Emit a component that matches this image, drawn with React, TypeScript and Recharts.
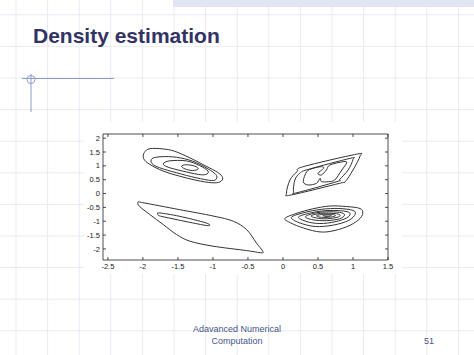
import React from "react";
import { ScatterChart, Scatter, XAxis, YAxis } from "recharts";

type Pt = [number, number];

const xTicks = [-2.5, -2, -1.5, -1, -0.5, 0, 0.5, 1, 1.5];
const yTicks = [-2, -1.5, -1, -0.5, 0, 0.5, 1, 1.5, 2];
const xDomain: [number, number] = [-2.57, 1.5];
const yDomain: [number, number] = [-2.4, 2.15];

// upper-left blob, outer -> inner
const upperLeft1: Pt[] = [
  [-1.9, 1.62], [-1.71, 1.61], [-1.55, 1.53], [-1.33, 1.29], [-1.1, 0.99],
  [-0.93, 0.76], [-0.86, 0.57], [-0.9, 0.42], [-1.02, 0.39], [-1.24, 0.48],
  [-1.48, 0.63], [-1.71, 0.81], [-1.9, 1.05], [-1.99, 1.26], [-1.98, 1.48],
];
const upperLeft2: Pt[] = [
  [-1.87, 1.26], [-1.74, 1.33], [-1.52, 1.31], [-1.29, 1.17], [-1.07, 0.89],
  [-0.96, 0.69], [-0.95, 0.53], [-1.02, 0.47], [-1.24, 0.57], [-1.52, 0.75],
  [-1.76, 0.93], [-1.87, 1.08],
];
const upperLeft3: Pt[] = [
  [-1.71, 1.07], [-1.62, 1.18], [-1.38, 1.18], [-1.19, 1.01], [-1.07, 0.81],
  [-1.1, 0.69], [-1.21, 0.69], [-1.43, 0.81], [-1.64, 0.95],
];
const upperLeft4: Pt[] = [
  [-1.45, 0.99], [-1.38, 1.04], [-1.26, 0.99], [-1.21, 0.89], [-1.29, 0.83],
  [-1.4, 0.89],
];

// lower-left ridge
const lowerLeft1: Pt[] = [
  [-2.07, -0.31], [-2.0, -0.33], [-1.48, -0.58], [-1.0, -0.81], [-0.71, -1.0],
  [-0.52, -1.3], [-0.38, -1.78], [-0.29, -2.08], [-0.31, -2.14], [-0.52, -2.06],
  [-1.0, -1.9], [-1.33, -1.72], [-1.52, -1.48], [-1.71, -1.12], [-1.9, -0.76],
  [-2.05, -0.46],
];
const lowerLeft2: Pt[] = [
  [-1.79, -0.73], [-1.76, -0.7], [-1.48, -0.82], [-1.1, -1.06], [-1.07, -1.16],
  [-1.33, -1.04], [-1.67, -0.86], [-1.77, -0.8],
];

// upper-right diamond
const upperRight1: Pt[] = [
  [0.05, 0.01], [0.1, 0.49], [0.2, 0.79], [0.29, 0.97], [1.05, 1.42],
  [1.1, 1.35], [1.0, 0.85], [0.89, 0.43], [0.81, 0.37], [0.12, -0.05],
];
const upperRight2: Pt[] = [
  [0.15, 0.06], [0.17, 0.49], [0.24, 0.73], [0.36, 0.87], [0.96, 1.27],
  [1.0, 1.23], [0.93, 0.85], [0.81, 0.51], [0.77, 0.43], [0.2, 0.03],
];
const upperRight3: Pt[] = [
  [0.29, 0.43], [0.34, 0.79], [0.43, 0.91], [0.55, 0.97], [0.58, 0.91],
  [0.5, 0.73], [0.55, 0.67], [0.62, 0.85], [0.67, 1.03], [0.86, 1.15],
  [0.91, 1.11], [0.84, 0.85], [0.74, 0.49], [0.65, 0.43], [0.55, 0.43],
  [0.53, 0.55], [0.48, 0.37], [0.36, 0.31],
];

// lower-right peak
const lowerRight1: Pt[] = [
  [0.03, -0.89], [0.2, -0.71], [0.43, -0.55], [0.67, -0.45], [0.91, -0.47],
  [1.1, -0.54], [1.14, -0.71], [1.08, -0.95], [0.91, -1.2], [0.67, -1.37],
  [0.48, -1.37], [0.24, -1.2], [0.08, -1.02],
];
const lowerRight2: Pt[] = [
  [0.12, -0.86], [0.3, -0.69], [0.55, -0.57], [0.8, -0.54], [1.0, -0.61],
  [1.03, -0.75], [0.94, -0.97], [0.72, -1.14], [0.46, -1.19], [0.23, -1.05],
];
const lowerRight3: Pt[] = [
  [0.22, -0.86], [0.38, -0.71], [0.6, -0.62], [0.82, -0.62], [0.95, -0.69],
  [0.93, -0.85], [0.79, -0.99], [0.58, -1.08], [0.38, -1.04],
];
const lowerRight4: Pt[] = [
  [0.32, -0.84], [0.45, -0.71], [0.62, -0.66], [0.81, -0.68], [0.88, -0.77],
  [0.81, -0.91], [0.62, -0.98], [0.43, -0.95],
];
const lowerRight5: Pt[] = [
  [0.4, -0.82], [0.5, -0.73], [0.65, -0.71], [0.79, -0.74], [0.81, -0.82],
  [0.71, -0.89], [0.55, -0.91],
];
const lowerRight6: Pt[] = [
  [0.48, -0.8], [0.58, -0.75], [0.7, -0.75], [0.75, -0.8], [0.68, -0.85],
  [0.55, -0.86],
];
const lowerRight7: Pt[] = [
  [0.57, -0.79], [0.63, -0.77], [0.69, -0.78], [0.66, -0.82], [0.6, -0.82],
];

const contours = [
  upperLeft1, upperLeft2, upperLeft3, upperLeft4,
  lowerLeft1, lowerLeft2,
  upperRight1, upperRight2, upperRight3,
  lowerRight1, lowerRight2, lowerRight3, lowerRight4, lowerRight5, lowerRight6, lowerRight7,
];

const toPoints = (c: Pt[]) => c.map(([x, y]) => ({ x, y }));

// closed Catmull-Rom curve, passes through every point
function closedSmooth(context: any) {
  let pts: Pt[] = [];
  return {
    areaStart() {},
    areaEnd() {},
    lineStart() {
      pts = [];
    },
    point(x: number, y: number) {
      pts.push([+x, +y]);
    },
    lineEnd() {
      const n = pts.length;
      if (!n) return;
      context.moveTo(pts[0][0], pts[0][1]);
      for (let i = 0; i < n; i++) {
        const p0 = pts[(i - 1 + n) % n];
        const p1 = pts[i];
        const p2 = pts[(i + 1) % n];
        const p3 = pts[(i + 2) % n];
        context.bezierCurveTo(
          p1[0] + (p2[0] - p0[0]) / 6,
          p1[1] + (p2[1] - p0[1]) / 6,
          p2[0] - (p3[0] - p1[0]) / 6,
          p2[1] - (p3[1] - p1[1]) / 6,
          p2[0],
          p2[1]
        );
      }
      context.closePath();
    },
  };
}

const INK = "#222";
const TICK_FONT = "'Liberation Sans', Arial, sans-serif";

function BottomTick(props: any) {
  const { x, y, payload } = props;
  return (
    <g>
      <line x1={x} y1={y} x2={x} y2={y - 3} stroke={INK} strokeWidth={0.8} />
      <text x={x} y={y + 9} textAnchor="middle" fontSize={7.5} fontFamily={TICK_FONT} fill={INK}>
        {String(payload.value)}
      </text>
    </g>
  );
}

function LeftTick(props: any) {
  const { x, y, payload } = props;
  return (
    <g>
      <line x1={x} y1={y} x2={x + 3} y2={y} stroke={INK} strokeWidth={0.8} />
      <text x={x - 3} y={y + 2.6} textAnchor="end" fontSize={7.5} fontFamily={TICK_FONT} fill={INK}>
        {String(payload.value)}
      </text>
    </g>
  );
}

function TopTick(props: any) {
  const { x, y } = props;
  return <line x1={x} y1={y} x2={x} y2={y + 3} stroke={INK} strokeWidth={0.8} />;
}

function RightTick(props: any) {
  const { x, y } = props;
  return <line x1={x} y1={y} x2={x - 3} y2={y} stroke={INK} strokeWidth={0.8} />;
}

function SlideBackground() {
  const v: number[] = [];
  for (let x = 16; x < 474; x += 31.6) v.push(x);
  const h: number[] = [];
  for (let y = 14.8; y < 355; y += 31.6) h.push(y);
  return (
    <svg width={474} height={355} style={{ position: "absolute", left: 0, top: 0 }}>
      <rect width={474} height={355} fill="#ffffff" />
      {v.map((x) => (
        <line key={"v" + x} x1={x} y1={0} x2={x} y2={355} stroke="#e8ebf3" strokeWidth={1} />
      ))}
      {h.map((y) => (
        <line key={"h" + y} x1={0} y1={y} x2={474} y2={y} stroke="#e8ebf3" strokeWidth={1} />
      ))}
      <rect x={173} y={0} width={301} height={7} fill="#dfe5f3" />
      <text x={33} y={43} fontSize={21} fontWeight="bold" fontFamily="'Liberation Sans', Arial, sans-serif" fill="#333366">
        Density estimation
      </text>
      <line x1={22} y1={78.5} x2={114} y2={78.5} stroke="#8d9ccb" strokeWidth={1} />
      <line x1={31} y1={74} x2={31} y2={112} stroke="#8d9ccb" strokeWidth={1} />
      <circle cx={31} cy={79.5} r={4} fill="none" stroke="#8d9ccb" strokeWidth={1} />
      <rect x={84} y={122} width={318} height={152} fill="#ffffff" />
      <text x={237} y={332} textAnchor="middle" fontSize={9} fontFamily="'Liberation Sans', Arial, sans-serif" fill="#46568a">
        Adavanced Numerical
      </text>
      <text x={237} y={343.5} textAnchor="middle" fontSize={9} fontFamily="'Liberation Sans', Arial, sans-serif" fill="#46568a">
        Computation
      </text>
      <text x={429} y={343.5} textAnchor="middle" fontSize={9} fontFamily="'Liberation Sans', Arial, sans-serif" fill="#46568a">
        51
      </text>
    </svg>
  );
}

export default function App() {
  return (
    <div style={{ position: "absolute", left: 0, top: 0, width: 474, height: 355, overflow: "hidden" }}>
      <SlideBackground />
      <div style={{ position: "absolute", left: 0, top: 0 }}>
        <ScatterChart width={474} height={355} margin={{ top: 124, right: 76, bottom: 75, left: 73 }}>
          <XAxis
            type="number"
            dataKey="x"
            domain={xDomain}
            ticks={xTicks}
            allowDataOverflow
            interval={0}
            height={20}
            tickSize={0}
            tickMargin={0}
            tick={BottomTick}
            axisLine={{ stroke: INK, strokeWidth: 0.8 }}
          />
          <XAxis
            xAxisId="top"
            orientation="top"
            type="number"
            dataKey="x"
            domain={xDomain}
            ticks={xTicks}
            allowDataOverflow
            interval={0}
            height={10}
            tickSize={0}
            tickMargin={0}
            tick={TopTick}
            axisLine={{ stroke: INK, strokeWidth: 0.8 }}
          />
          <YAxis
            type="number"
            dataKey="y"
            domain={yDomain}
            ticks={yTicks}
            allowDataOverflow
            interval={0}
            width={30}
            tickSize={0}
            tickMargin={0}
            tick={LeftTick}
            axisLine={{ stroke: INK, strokeWidth: 0.8 }}
          />
          <YAxis
            yAxisId="right"
            orientation="right"
            type="number"
            dataKey="y"
            domain={yDomain}
            ticks={yTicks}
            allowDataOverflow
            interval={0}
            width={10}
            tickSize={0}
            tickMargin={0}
            tick={RightTick}
            axisLine={{ stroke: INK, strokeWidth: 0.8 }}
          />
          {contours.map((c, i) => (
            <Scatter
              key={i}
              data={toPoints(c)}
              line={{ stroke: "#333", strokeWidth: 1 }}
              lineType="joint"
              lineJointType={closedSmooth as any}
              shape={() => <g />}
              isAnimationActive={false}
            />
          ))}
        </ScatterChart>
      </div>
    </div>
  );
}
